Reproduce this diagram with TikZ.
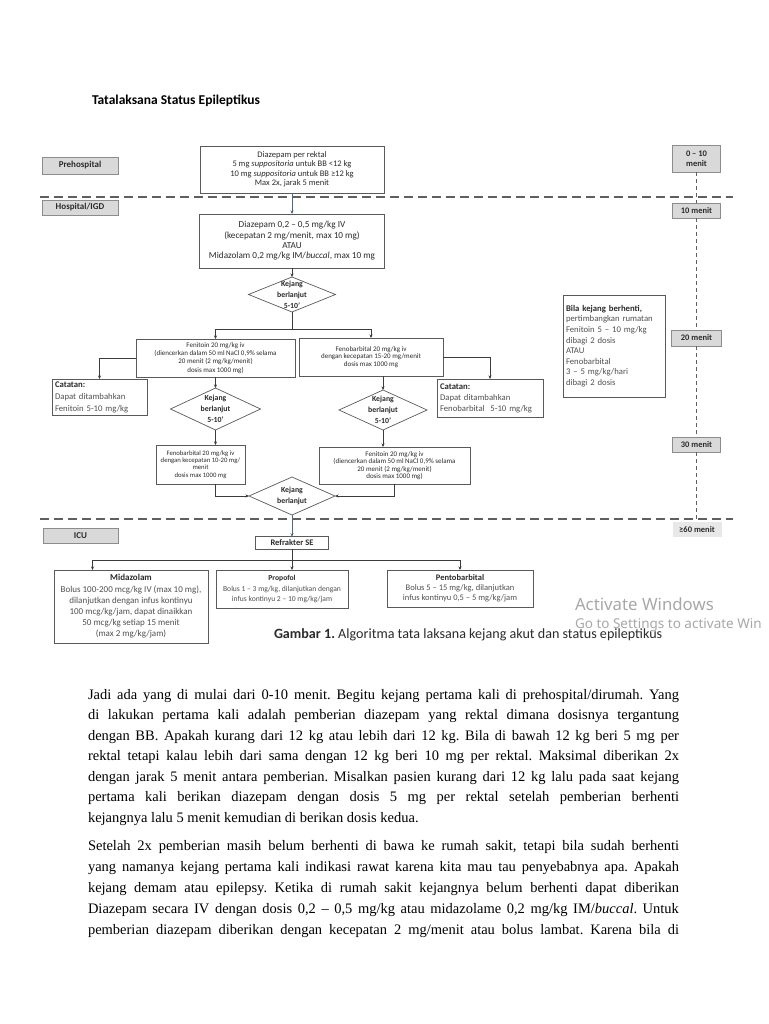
\documentclass[tikz,border=0pt]{standalone}
\usepackage{fontspec}
\setmainfont{Carlito}
\newfontfamily\bodyfont{Liberation Serif}
\newfontfamily\winfont{Noto Sans}
\usetikzlibrary{arrows.meta,shapes.geometric,calc}
\definecolor{linec}{HTML}{3C3C3C}
\definecolor{boxc}{HTML}{5A5A5A}
\definecolor{txtc}{HTML}{2B2B2B}
\definecolor{softc}{HTML}{505050}
\definecolor{labfill}{HTML}{D9D9D9}
\definecolor{labdraw}{HTML}{8C8C8C}
\definecolor{dashc}{HTML}{5F5F5F}
\definecolor{winc}{HTML}{A8A8A8}
\definecolor{arrblue}{HTML}{4F6580}
\newcommand{\fs}[2]{\fontsize{#1}{#2}\selectfont}
\newcommand{\jl}[1]{\hbox to 591pt{#1}}
\frenchspacing
\begin{document}
\begin{tikzpicture}[x=1pt,y=-1pt,
  every node/.style={inner sep=0pt, outer sep=0pt, text=txtc},
  box/.style={draw=boxc, line width=0.7pt, fill=white, align=center},
  lbox/.style={draw=boxc, line width=0.7pt, fill=white, align=left, inner xsep=3pt},
  lab/.style={draw=labdraw, line width=0.6pt, fill=labfill, align=center, font=\bfseries\fs{8.5}{9.5}},
  kdiam/.style={draw=boxc, line width=0.7pt, diamond, fill=white},
  dtext/.style={align=center, font=\bfseries\fs{7.8}{11}},
  arr/.style={draw=linec, line width=0.8pt, -{Stealth[length=3.5pt,width=3pt]}},
  ln/.style={draw=linec, line width=0.8pt},
  sep/.style={draw=dashc, line width=1.3pt, dash pattern=on 9pt off 5pt},
  tline/.style={draw=dashc, line width=0.7pt, dash pattern=on 4pt off 3pt},
]
\useasboundingbox (0,0) rectangle (768,1024);
\fill[white] (0,0) rectangle (768,1024);

% title
\node[anchor=west, font=\bfseries\fs{13.5}{15}, text=black] (title) at (92,101) {Tatalaksana Status Epileptikus};

% separators
\coordinate (s1a) at (40,197); \coordinate (s1b) at (733,197);
\coordinate (s2a) at (40,519); \coordinate (s2b) at (733,519);
\draw[sep] (s1a) -- (s1b);
\draw[sep] (s2a) -- (s2b);

% left labels
\node[lab, font=\bfseries\fs{9}{10}, minimum width=76pt, minimum height=17pt] (lpre) at (80,165.5) {Prehospital};
\node[lab, font=\bfseries\fs{9}{10}, minimum width=76pt, minimum height=15pt] (lhos) at (80,207.5) {Hospital/IGD};
\node[lab, font=\bfseries\fs{9}{10}, minimum width=75pt, minimum height=15pt] (licu) at (80.5,535.5) {ICU};

% timeline
\node[lab, minimum width=48pt, minimum height=27pt] (t0) at (696.5,158.5) {0 – 10\\menit};
\node[lab, minimum width=48pt, minimum height=15pt] (t10) at (696.5,210.5) {10 menit};
\node[lab, minimum width=50pt, minimum height=16pt] (t20) at (696.5,338) {20 menit};
\node[lab, minimum width=48pt, minimum height=15pt] (t30) at (696.5,444.5) {30 menit};
\node[lab, draw=none, fill=labfill!60, minimum width=49pt, minimum height=15pt] (t60) at (697,529.5) {≥60 menit};
\coordinate (tend) at (696.5,519);
\draw[tline] (t0.south) -- (t10.north);
\draw[tline] (t10.south) -- (t20.north);
\draw[tline] (t20.south) -- (t30.north);
\draw[tline] (t30.south) -- (tend);

% main boxes
\node[box, minimum width=184pt, minimum height=47pt, font=\fs{8.5}{9.5}] (pre) at (292,169.5)
  {Diazepam per rektal\\5 mg \textit{suppositoria} untuk BB <12 kg\\10 mg \textit{suppositoria} untuk BB ≥12 kg\\Max 2x, jarak 5 menit};
\node[box, minimum width=185pt, minimum height=54pt, font=\fs{9.2}{10.3}] (dz) at (292,241)
  {Diazepam 0,2 – 0,5 mg/kg IV\\(kecepatan 2 mg/menit, max 10 mg)\\ATAU\\Midazolam 0,2 mg/kg IM/\textit{buccal}, max 10 mg};
\node[kdiam, minimum width=87pt, minimum height=35pt] (d1) at (292,294.5) {};
\node[dtext] (d1t) at (d1) {Kejang\\berlanjut\\5-10’};

\node[box, minimum width=159pt, minimum height=38pt, font=\fs{7}{8.3}] (fen1) at (215.5,358)
  {Fenitoin 20 mg/kg iv\\(diencerkan dalam 50 ml NaCl 0,9\% selama\\20 menit (2 mg/kg/menit)\\dosis max 1000 mg)};
\node[box, minimum width=144pt, minimum height=38pt, font=\fs{7}{7.7}] (fb1) at (371,357)
  {Fenobarbital 20 mg/kg iv\\dengan kecepatan 15-20 mg/menit\\dosis max 1000 mg};

\node[lbox, text width=89pt, minimum height=36pt, font=\fs{8.7}{12}] (cat1) at (99.5,397)
  {\textbf{Catatan:}\\{\color{softc}Dapat ditambahkan}\\{\color{softc}Fenitoin 5-10 mg/kg}};
\node[lbox, text width=100pt, minimum height=38pt, font=\fs{8.7}{11}] (cat2) at (490,398)
  {\textbf{Catatan:}\\{\color{softc}Dapat ditambahkan}\\{\color{softc}Fenobarbital\ \ 5-10 mg/kg}};

\node[lbox, text width=96pt, minimum height=102pt, font=\fs{8.7}{10.6}] (bila) at (614,346)
  {\textbf{Bila kejang berhenti,}\\{\color{softc}pertimbangkan rumatan}\\{\color{softc}Fenitoin 5 – 10 mg/kg}\\{\color{softc}dibagi 2 dosis}\\{\color{softc}ATAU}\\{\color{softc}Fenobarbital}\\{\color{softc}3 – 5 mg/kg/hari}\\{\color{softc}dibagi 2 dosis}};

\node[kdiam, minimum width=90pt, minimum height=42pt] (d2) at (215.5,409) {};
\node[dtext] (d2t) at (d2) {Kejang\\berlanjut\\5-10’};
\node[kdiam, minimum width=88pt, minimum height=40pt] (d3) at (383,410) {};
\node[dtext] (d3t) at (d3) {Kejang\\berlanjut\\5-10’};

\node[box, minimum width=89pt, minimum height=39pt, font=\fs{6.7}{7.4}] (fb2) at (200.5,464.5)
  {Fenobarbital 20 mg/kg iv\\dengan kecepatan 10-20 mg/\\menit\\dosis max 1000 mg};
\node[box, minimum width=151pt, minimum height=37pt, font=\fs{7}{7.5}] (fen2) at (394.5,465.5)
  {Fenitoin 20 mg/kg iv\\(diencerkan dalam 50 ml NaCl 0,9\% selama\\20 menit (2 mg/kg/menit)\\dosis max 1000 mg)};

\node[kdiam, minimum width=86pt, minimum height=38pt] (d4) at (292,496) {};
\node[dtext] (d4t) at (d4) {Kejang\\berlanjut};

\node[box, minimum width=73pt, minimum height=12.5pt, font=\bfseries\fs{8.5}{9}] (ref) at (292,543) {Refrakter SE};

\node[box, minimum width=154pt, minimum height=73pt, font=\fs{9}{11.2}] (mid) at (131,606.5)
  {\textbf{Midazolam}\\{\color{softc}Bolus 100-200 mcg/kg IV (max 10 mg),}\\{\color{softc}dilanjutkan dengan infus kontinyu}\\{\color{softc}100 mcg/kg/jam, dapat dinaikkan}\\{\color{softc}50 mcg/kg setiap 15 menit}\\{\color{softc}(max 2 mg/kg/jam)}};
\node[box, minimum width=132pt, minimum height=38pt, font=\fs{7.6}{10.5}] (pro) at (282,589)
  {\textbf{Propofol}\\{\color{softc}Bolus 1 – 3 mg/kg, dilanjutkan dengan}\\{\color{softc}infus kontinyu 2 – 10 mg/kg/jam}};
\node[box, minimum width=146pt, minimum height=37pt, font=\fs{8.5}{10}] (pen) at (460,588.5)
  {\textbf{Pentobarbital}\\{\color{softc}Bolus 5 – 15 mg/kg, dilanjutkan}\\{\color{softc}infus kontinyu 0,5 – 5 mg/kg/jam}};

% connectors
\draw[arr, draw=arrblue] (pre.south) -- (dz.north);
\draw[arr] (dz.south) -- (d1.north);
\coordinate (j1) at (292,329);
\draw[ln] (d1.south) -- (j1);
\draw[arr] (j1) -| (fen1.north);
\draw[arr] (j1) -| (fb1.north);
\draw[arr] (fen1.west) -| (cat1.north);
\draw[arr] (fb1.east) -| (cat2.north);
\draw[arr] (fen1.south) -- (d2.north);
\draw[arr] (d3.north |- fb1.south) -- (d3.north);
\draw[arr] (d2.south) -- (d2.south |- fb2.north);
\draw[arr] (d3.south) -- (d3.south |- fen2.north);
\draw[arr] (d2.south |- fb2.south) |- (d4.west);
\draw[arr] (fen2.south) |- (d4.east);
\draw[arr, draw=arrblue] (d4.south) -- (ref.north);
\coordinate (j2) at (292,560);
\draw[ln] (ref.south) -- (j2);
\draw[arr] (j2) -| ($(mid.north west)!0.25!(mid.north east)$);
\draw[arr] (j2) -- (j2 |- pro.north);
\draw[arr] (j2) -| (pen.north);

% caption and watermark
\node[anchor=base west, font=\fs{14.1}{16}, text=txtc] (cap) at (274,638)
  {\textbf{Gambar 1.} Algoritma tata laksana kejang akut dan status epileptikus};
\node[anchor=base west, font=\winfont\fs{16.8}{18}, text=winc] (w1) at (575,610) {Activate Windows};
\node[anchor=base west, font=\winfont\fs{13.5}{15}, text=winc] (w2) at (575,628) {Go to Settings to activate Win};

% body text
\node[anchor=base west, font=\bodyfont\fs{14.5}{20.5}, text=black] (p1) at (88,699) {\vtop{%
\jl{Jadi ada yang di mulai dari 0-10 menit. Begitu kejang pertama kali di prehospital/dirumah. Yang}%
\jl{di lakukan pertama kali adalah pemberian diazepam yang rektal dimana dosisnya tergantung}%
\jl{dengan BB. Apakah kurang dari 12 kg atau lebih dari 12 kg. Bila di bawah 12 kg beri 5 mg per}%
\jl{rektal tetapi kalau lebih dari sama dengan 12 kg beri 10 mg per rektal. Maksimal diberikan 2x}%
\jl{dengan jarak 5 menit antara pemberian. Misalkan pasien kurang dari 12 kg lalu pada saat kejang}%
\jl{pertama kali berikan diazepam dengan dosis 5 mg per rektal setelah pemberian berhenti}%
\hbox{kejangnya lalu 5 menit kemudian di berikan dosis kedua.}}};
\node[anchor=base west, font=\bodyfont\fs{14.5}{21.2}, text=black] (p2) at (88,850) {\vtop{%
\jl{Setelah 2x pemberian masih belum berhenti di bawa ke rumah sakit, tetapi bila sudah berhenti}%
\jl{yang namanya kejang pertama kali indikasi rawat karena kita mau tau penyebabnya apa. Apakah}%
\jl{kejang demam atau epilepsy. Ketika di rumah sakit kejangnya belum berhenti dapat diberikan}%
\jl{Diazepam secara IV dengan dosis 0,2 – 0,5 mg/kg atau midazolame 0,2 mg/kg IM/\textit{buccal}. Untuk}%
\jl{pemberian diazepam diberikan dengan kecepatan 2 mg/menit atau bolus lambat. Karena bila di}}};
\end{tikzpicture}
\end{document}
